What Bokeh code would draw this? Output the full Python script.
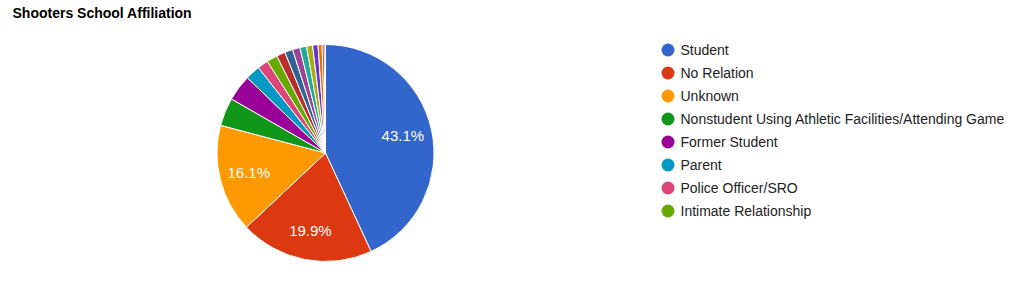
import numpy as np
from bokeh.plotting import figure
from bokeh.models import Range1d, ColumnDataSource
from bokeh.core.properties import value
from bokeh.embed import file_html
from bokeh.resources import INLINE

# ---- data ----
categories = [
    "Student", "No Relation", "Unknown",
    "Nonstudent Using Athletic Facilities/Attending Game",
    "Former Student", "Parent", "Police Officer/SRO", "Intimate Relationship",
    "Relative", "Rival School Student", "Teacher", "Other Staff",
    "Hired Security Guard", "Former Teacher", "Principal/Vice-Principal",
    "Other", "Other Student",
]
shares = [43.1, 19.9, 16.1, 4.2, 3.9, 2.2, 1.6, 1.6,
          1.3, 1.2, 1.1, 1.0, 0.9, 0.8, 0.6, 0.3, 0.2]
colors = ["#3366cc", "#dc3912", "#ff9900", "#109618", "#990099", "#0099c6",
          "#dd4477", "#66aa00", "#b82e2e", "#316395", "#994499", "#22aa99",
          "#aaaa11", "#6633cc", "#e67300", "#8b0707", "#651067"]
legend_count = 8
title_text = "Shooters School Affiliation"

# ---- layout ----
W, H = 1024, 303
def Y(py):
    return H - py

cx, cy, R = 325.0, Y(152.5), 108.5
label_factor = 0.73

vals = np.array(shares, dtype=float)
frac = vals / vals.sum()
cum_end = np.cumsum(frac)
cum_start = cum_end - frac
start_angle = np.pi / 2 - 2 * np.pi * cum_start
end_angle = np.pi / 2 - 2 * np.pi * cum_end

src = ColumnDataSource(dict(start=start_angle, end=end_angle, color=colors, cat=categories))

p = figure(width=W, height=H, x_range=Range1d(0, W), y_range=Range1d(0, H),
           output_backend="svg", toolbar_location=None, min_border=0,
           outline_line_color=None, background_fill_color="white",
           border_fill_color="white")
p.axis.visible = False
p.grid.visible = False

p.wedge(x=cx, y=cy, radius=R, start_angle="start", end_angle="end",
        direction="clock", fill_color="color", line_color="white",
        line_width=1, source=src)

# percentage labels on the big slices
mid = (start_angle + end_angle) / 2
lab_idx = [i for i, v in enumerate(frac) if v > 0.1]
lx = [cx + label_factor * R * np.cos(mid[i]) for i in lab_idx]
ly = [cy + label_factor * R * np.sin(mid[i]) for i in lab_idx]
lt = ["%.1f%%" % (frac[i] * 100) for i in lab_idx]
p.text(x=lx, y=ly, text=lt, text_align="center", text_baseline="middle",
       text_color="white", text_font=value("Liberation Sans"),
       text_font_size="15px")

# title
p.text(x=[12], y=[Y(12.5)], text=[title_text], text_align="left",
       text_baseline="middle", text_color="#000000",
       text_font=value("Liberation Sans"), text_font_size="14px",
       text_font_style="bold")

# legend
leg_y = [Y(49.5 + 23.0 * i) for i in range(legend_count)]
p.scatter(x=[667.5] * legend_count, y=leg_y, size=13,
          fill_color=colors[:legend_count], line_color=None)
p.text(x=[680] * legend_count, y=leg_y, text=categories[:legend_count],
       text_align="left", text_baseline="middle", text_color="#222222",
       text_font=value("Liberation Sans"), text_font_size="14px")

open("out.html", "w").write(file_html(p, INLINE))
